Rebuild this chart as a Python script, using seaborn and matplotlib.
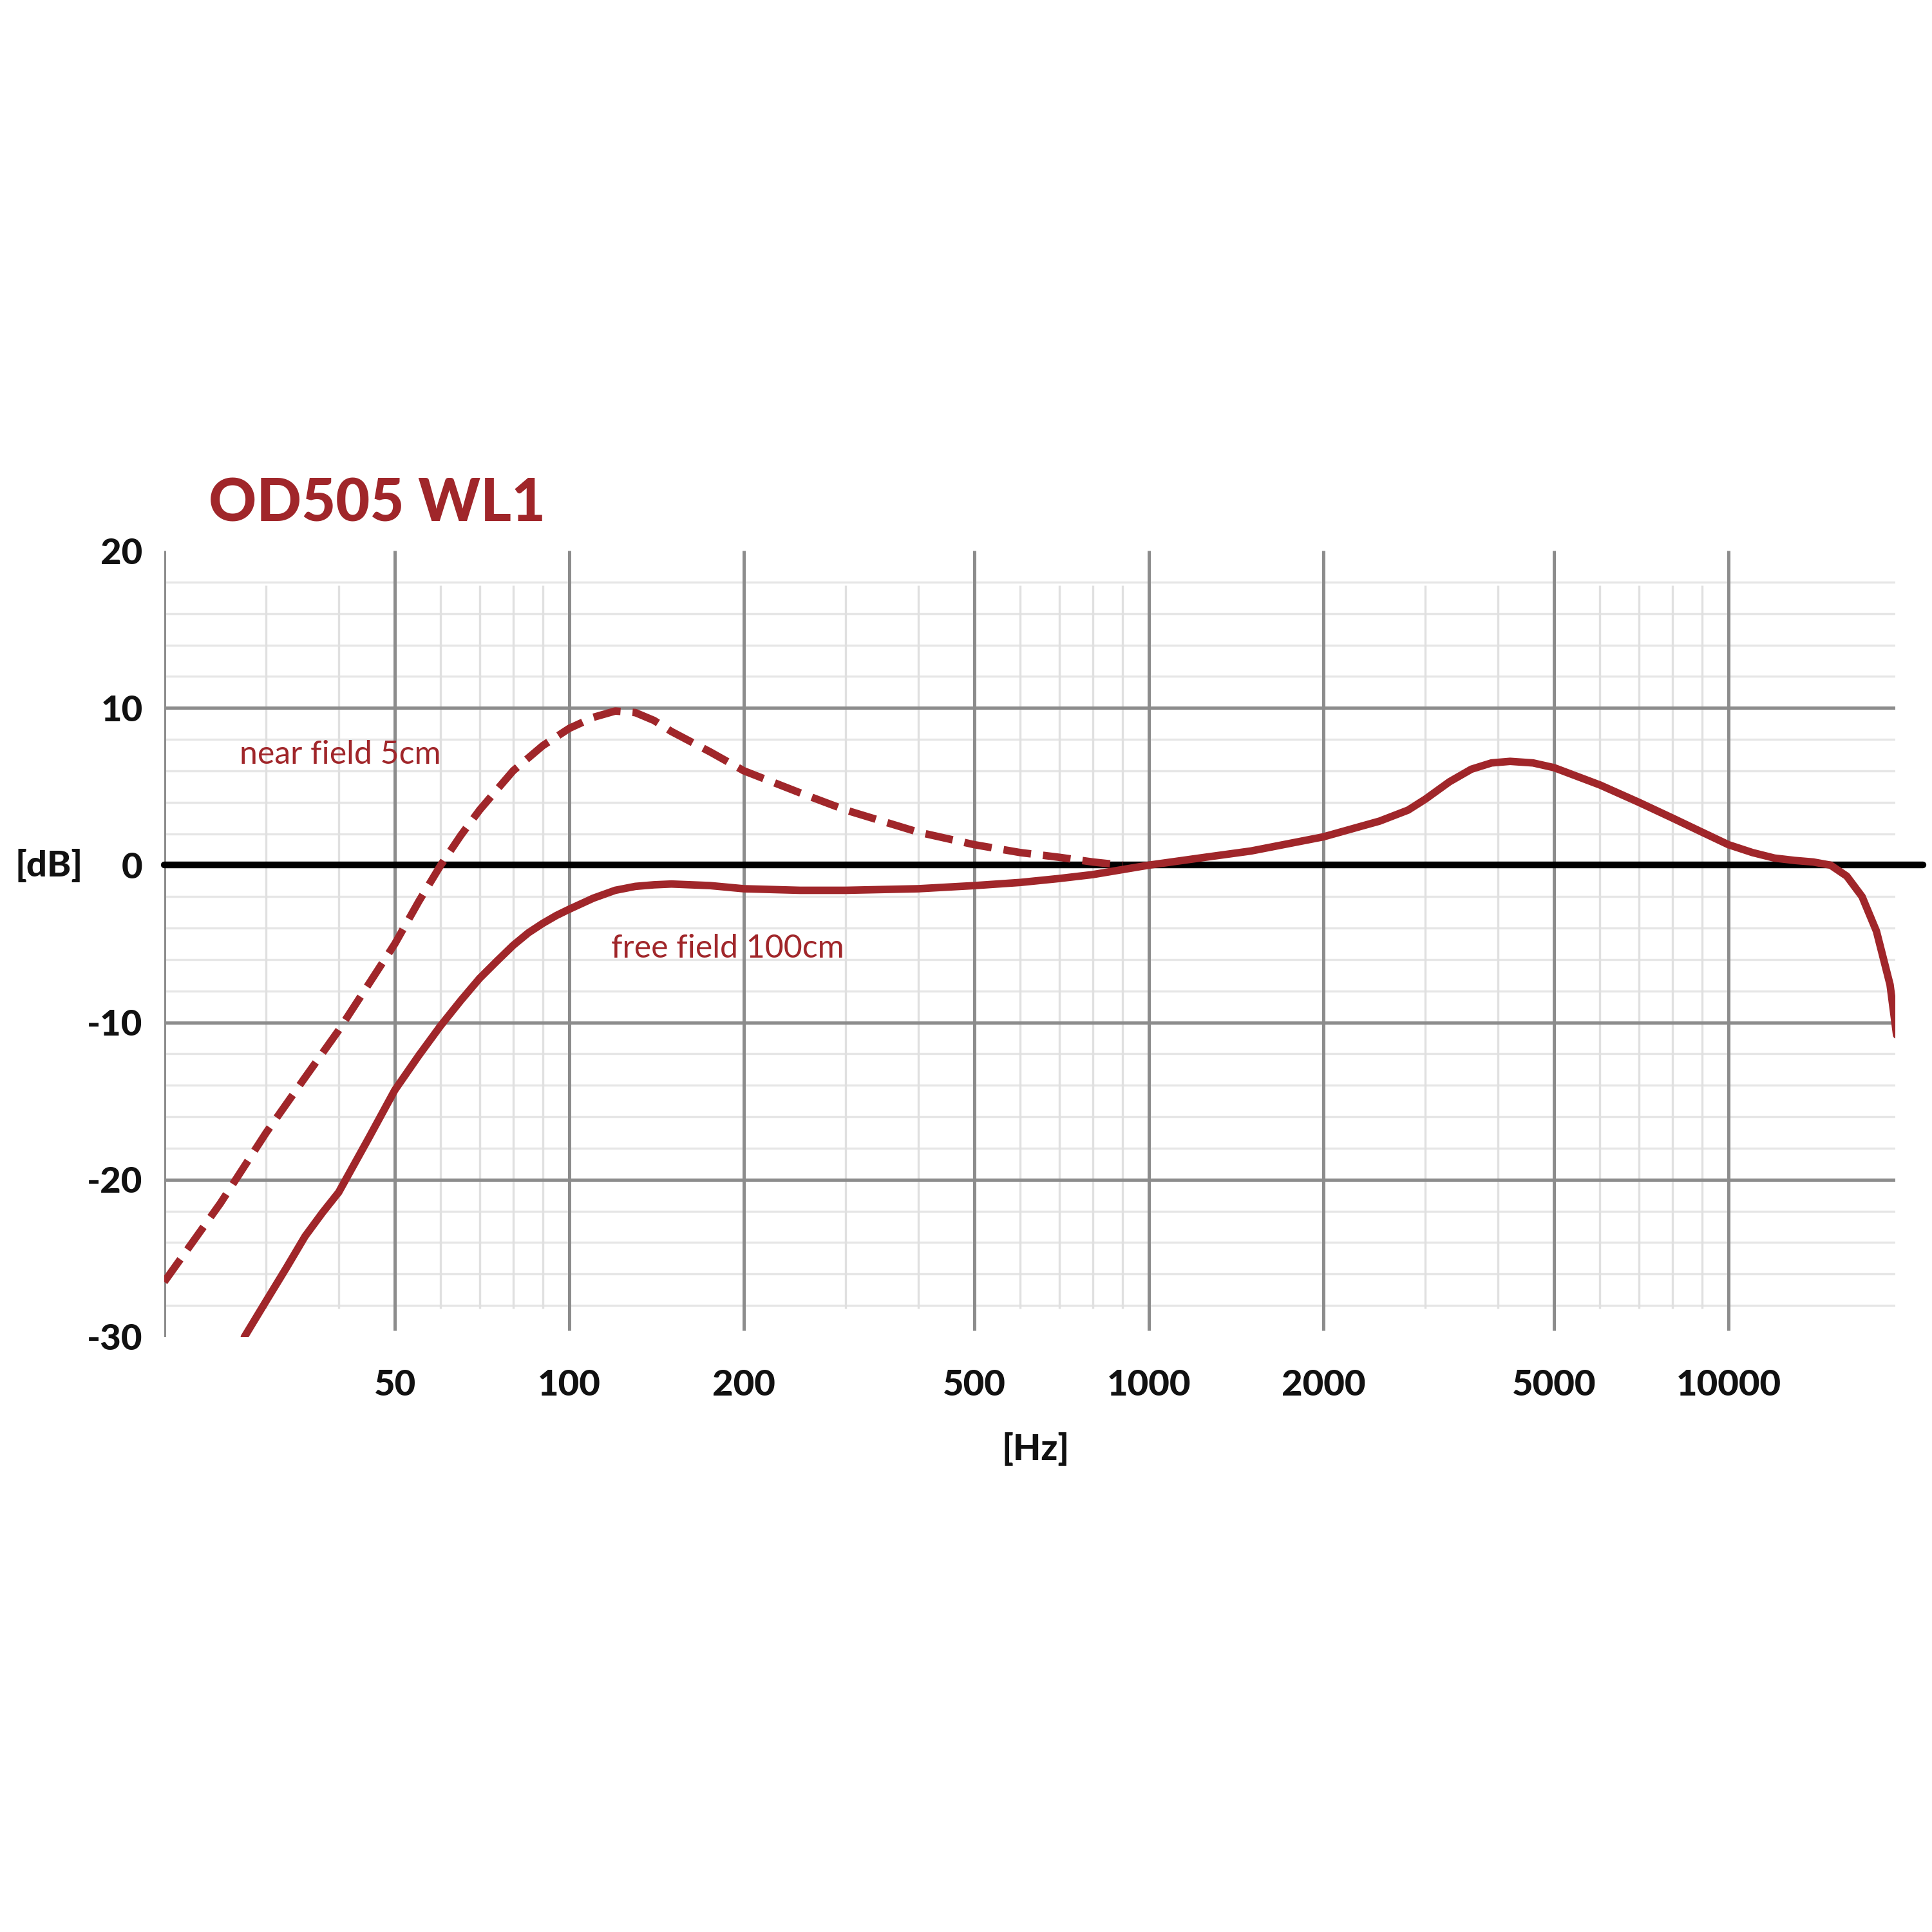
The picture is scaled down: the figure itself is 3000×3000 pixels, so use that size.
import numpy as np
import pandas as pd
import matplotlib
matplotlib.use("Agg")
import matplotlib.pyplot as plt
import seaborn as sns

RED = "#A0262A"

# free field 100cm
ff_freq = [27.5, 30, 32.5, 35, 37.5, 40, 45, 50, 55, 60, 65, 70, 75, 80, 85, 90, 95, 100, 110, 120, 130, 140, 150, 175,
           200, 250, 300, 400, 500, 600, 700, 800, 1000, 1250, 1500, 2000, 2500, 2800, 3000, 3300, 3600, 3900, 4200,
           4600, 5000, 6000, 7000, 8000, 9000, 10000, 11000, 12000, 13000, 14000, 15000, 16000, 17000, 18000, 19000,
           19500]
ff_db = [-30, -27.7, -25.6, -23.6, -22.1, -20.8, -17.4, -14.3, -12.1, -10.2, -8.6, -7.2, -6.1, -5.1, -4.3, -3.7, -3.2,
         -2.8, -2.1, -1.6, -1.35, -1.25, -1.2, -1.3, -1.5, -1.6, -1.6, -1.5, -1.3, -1.1, -0.85, -0.6, 0, 0.5, 0.9, 1.8,
         2.8, 3.5, 4.2, 5.3, 6.1, 6.5, 6.6, 6.5, 6.2, 5.1, 4.0, 3.0, 2.1, 1.3, 0.8, 0.45, 0.3, 0.2, 0.0, -0.7, -2.0,
         -4.2, -7.6, -10.8]

# near field 5cm
nf_freq = [20, 25, 30, 35, 40, 45, 50, 55, 60, 65, 70, 75, 80, 90, 100, 110, 120, 130, 140, 150, 175, 200, 250, 300,
           400, 500, 600, 700, 800, 900]
nf_db = [-26.5, -21.5, -17, -13.5, -10.5, -7.6, -5, -2.3, 0, 1.9, 3.5, 4.8, 6, 7.6, 8.7, 9.4, 9.8, 9.7, 9.2, 8.5, 7.2,
         6, 4.6, 3.5, 2.1, 1.3, 0.8, 0.5, 0.2, 0]

major_x = [50, 100, 200, 500, 1000, 2000, 5000, 10000]
minor_x = [30, 40, 60, 70, 80, 90, 300, 400, 600, 700, 800, 900, 3000, 4000, 6000, 7000, 8000, 9000]
y_ticks = [20, 10, 0, -10, -20, -30]

sns.set_style("white")
plt.rcParams["font.family"] = ["Lato", "DejaVu Sans"]

fig = plt.figure(figsize=(10, 10), dpi=300)
ax = fig.add_axes([0.085, 0.308, 0.896, 0.407])
ax.set_xscale("log")
ax.set_xlim(20, 19400)
ax.set_ylim(-30, 20)

# grid
for y in range(-28, 19, 2):
    if y % 10:
        ax.axhline(y, color="#e6e6e6", lw=0.8, zorder=0)
for y in [10, -10, -20]:
    ax.axhline(y, color="#8c8c8c", lw=1.2, zorder=1)
ax.vlines(minor_x, -28.2, 17.8, color="#e0e0e0", lw=0.8, zorder=0)
ax.vlines(major_x, -29.6, 20, color="#8c8c8c", lw=1.2, zorder=1)
ax.vlines([20], -30, 20, color="#8c8c8c", lw=1.2, zorder=1)
ax.plot([0, 1.016], [0.6, 0.6], transform=ax.transAxes, color="black", lw=2.5, clip_on=False, zorder=2)

df_ff = pd.DataFrame({"f": ff_freq, "db": ff_db})
df_nf = pd.DataFrame({"f": nf_freq, "db": nf_db})
sns.lineplot(data=df_ff, x="f", y="db", ax=ax, color=RED, lw=2.8, zorder=3)
sns.lineplot(data=df_nf, x="f", y="db", ax=ax, color=RED, lw=2.8, zorder=3, dashes=(3, 2.2), linestyle="--")

for s in ax.spines.values():
    s.set_visible(False)
ax.set_xlabel("")
ax.set_ylabel("")
ax.set_xticks(major_x)
ax.set_xticklabels([str(v) for v in major_x])
ax.xaxis.set_minor_locator(matplotlib.ticker.NullLocator())
ax.set_yticks(y_ticks)
ax.set_yticklabels([str(v) for v in y_ticks])
ax.tick_params(length=0, labelsize=13.5, labelcolor="#111111")
ax.tick_params(axis="x", pad=12)
ax.tick_params(axis="y", pad=8)
for lab in ax.get_xticklabels() + ax.get_yticklabels():
    lab.set_fontweight("black")

fig.text(0.108, 0.739, "OD505 WL1", color=RED, fontsize=22, fontweight="black", va="center")
fig.text(0.008, 0.552, "[dB]", fontsize=13.5, fontweight="black", va="center", color="#111111")
fig.text(0.536, 0.25, "[Hz]", fontsize=13.5, fontweight="black", ha="center", va="center", color="#111111")
ax.text(27, 7, "near field 5cm", color=RED, fontsize=12, va="center")
ax.text(118, -5.3, "free field 100cm", color=RED, fontsize=12, va="center")

fig.savefig("out.png", dpi=300, facecolor="white")
